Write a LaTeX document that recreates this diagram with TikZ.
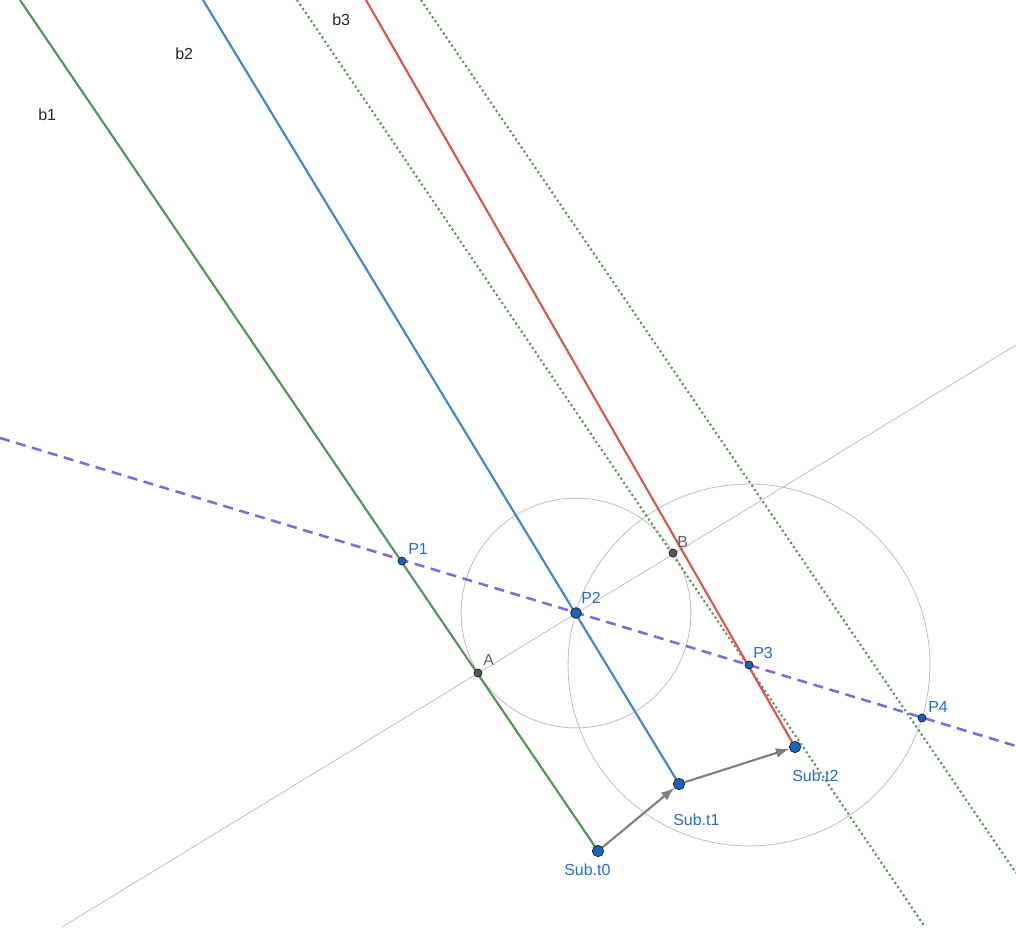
\documentclass[tikz,border=0pt]{standalone}
\usepackage{fontspec}
\setmainfont{Liberation Sans}
\usetikzlibrary{calc,arrows.meta}

\definecolor{ggGreen}{RGB}{86,148,86}
\definecolor{ggBlue}{RGB}{66,133,212}
\definecolor{ggRed}{RGB}{222,84,78}
\definecolor{ggPurple}{RGB}{125,105,230}
\definecolor{ggPoint}{RGB}{21,101,192}
\definecolor{ggText}{RGB}{40,110,200}

\tikzset{
  ptmark/.style={circle,draw=black!85,line width=0.6pt,fill=ggPoint,inner sep=0pt,minimum size=#1},
  ptmark/.default=6pt,
  greymark/.style={ptmark=6pt,fill=black!65},
  lbl/.style={anchor=base west,inner sep=0pt,font=\fontsize{12}{14}\selectfont,text=ggText},
  greylbl/.style={lbl,text=black!60},
  linelbl/.style={lbl,text=black!85},
  thinline/.style={black!25,line width=0.6pt},
  dotline/.style={ggGreen,line width=1.6pt,dash pattern=on 1.5pt off 2.2pt},
  mover/.style={black!50,line width=1.6pt,-{Latex[length=10pt,width=7.5pt]}}
}

\begin{document}
\begin{tikzpicture}[x=0.75pt,y=-0.75pt]
  \useasboundingbox (0,0) rectangle (1016,927);
  %% Points of the construction
  \foreach \n/\x/\y in {t0/598/851,t1/679/784,t2/795/747,p1/402/561,p2/576/613,p3/749/665,p4/922/718,a/478/673,b/673/553}
  {
    \coordinate (\n) at (\x,\y);
  }
  %% Where the lines leave the picture
  \foreach \n/\x/\y in {E1/20/0,E2/203/0,E3/366/0,D1/297/0,D2/925/927,D3/421/0,D4/1016/873,G1/62/927,G2/1016/345,H1/0/438,H2/1016/746}
  {
    \coordinate (\n) at (\x,\y);
  }

  %% Circles and the line through A and B
  \draw[thinline] let \p1=($(a)-(p2)$), \n1={veclen(\x1,\y1)} in (p2) circle (\n1);
  \draw[thinline] let \p1=($(p4)-(p3)$), \n1={veclen(\x1,\y1)} in (p3) circle (\n1);
  \draw[thinline] (G1) -- (G2);

  %% Parallels and the lines b1, b2, b3
  \draw[dotline] (D1) -- (D2);
  \draw[dotline] (D3) -- (D4);
  \draw[ggGreen,line width=1.6pt] (t0) -- (E1);
  \draw[ggBlue,line width=1.6pt]  (t1) -- (E2);
  \draw[ggRed,line width=1.6pt]   (t2) -- (E3);
  \draw[ggPurple,line width=1.9pt,dash pattern=on 7.5pt off 5pt] (H1) -- (H2);

  %% Point marks
  \foreach \n/\m/\s in {T0/t0/8.5pt,T1/t1/8.5pt,T2/t2/8.5pt,P1/p1/6pt,P2/p2/8pt,P3/p3/6pt,P4/p4/6pt}
  {
    \node[ptmark=\s] (\n) at (\m) {};
  }
  \node[greymark] (A) at (a) {};
  \node[greymark] (B) at (b) {};

  %% Moves of the point
  \draw[mover] (T0) -- (T1);
  \draw[mover] (T1) -- (T2);

  %% Labels
  \foreach \x/\y/\t in {408/554/P1,581/603/P2,753/658/P3,928/712/P4,564/875/Sub.t0,673/825/Sub.t1,792/781/Sub.t2}
  {
    \node[lbl] (L\t) at (\x,\y) {\t};
  }
  \node[greylbl] (LA) at (483,665) {A};
  \node[greylbl] (LB) at (677,547) {B};
  \node[linelbl] (Lb1) at (38,121) {b1};
  \node[linelbl] (Lb2) at (175,60) {b2};
  \node[linelbl] (Lb3) at (332,26) {b3};
\end{tikzpicture}
\end{document}
